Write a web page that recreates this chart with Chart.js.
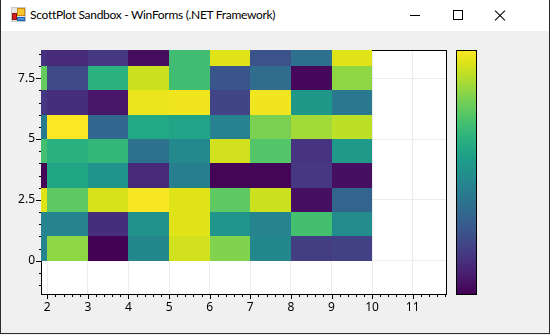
<!DOCTYPE html>
<html>
<head>
<meta charset="utf-8">
<title>ScottPlot Sandbox - WinForms (.NET Framework)</title>
<script src="https://cdn.jsdelivr.net/npm/chart.js@4/dist/chart.umd.min.js"></script>
<style>
  body { margin: 0; background: #f0f0f0; font-family: "Noto Sans", sans-serif; }
  #win { position: absolute; left: 0; top: 0; width: 548px; height: 333px;
         border: 1px solid #2b2b2b; border-top: none; background: #f0f0f0; overflow: hidden; }
  #titlebar { position: absolute; left: 0; top: 0; width: 548px; height: 31px; background: #fff; }
  #titletext { position: absolute; left: 29px; top: 7px; font-family: Lato, sans-serif; font-size: 12px;
               letter-spacing: -0.3px; line-height: 16px; color: #000; white-space: nowrap; }
  .ic { position: absolute; box-sizing: border-box; }
  #btnMin { position: absolute; left: 409px; top: 15px; width: 10px; height: 1px; background: #000; }
  #btnMax { position: absolute; left: 452px; top: 10px; width: 10px; height: 10px; box-sizing: border-box; border: 1px solid #000; }
  #btnClose { position: absolute; left: 493px; top: 9px; width: 12px; height: 12px; }
  #btnClose::before, #btnClose::after { content: ""; position: absolute; left: -1px; top: 5.5px; width: 14px; height: 1px; background: #000; }
  #btnClose::before { transform: rotate(45deg); }
  #btnClose::after { transform: rotate(-45deg); }
  #plotHost { position: absolute; left: 0; top: 31px; width: 547px; height: 302px; }
</style>
</head>
<body>
<div id="win">
  <div id="titlebar">
    <div class="ic" style="left:10px;top:7px;width:15px;height:15px;background:#e6e6e6;border:1px solid #c8c8c8;"></div>
    <div class="ic" style="left:16px;top:8px;width:8px;height:8px;background:#f6c630;border:1px solid #d08a10;"></div>
    <div class="ic" style="left:11px;top:13px;width:5px;height:7px;background:#d42020;border:1px solid #901010;"></div>
    <div class="ic" style="left:16px;top:17px;width:8px;height:4px;background:#4a8ee0;border:1px solid #2060b0;"></div>
    <div id="titletext">ScottPlot Sandbox - WinForms (.NET Framework)</div>
    <div id="btnMin"></div>
    <div id="btnMax"></div>
    <div id="btnClose"></div>
  </div>
  <div id="plotHost"><canvas id="myChart" width="547" height="302"></canvas></div>
</div>
<script>
// left edge of each heatmap column and bottom edge of each row
const colStart = [1, 2, 3, 4, 5, 6, 7, 8, 9];
const rowStart = [0, 1, 2, 3, 4, 5, 6, 7, 8];

// cell intensities, one array per row (bottom row first)
const row0 = [0.45, 0.83, 0.00, 0.46, 0.93, 0.81, 0.46, 0.18, 0.19];
const row1 = [0.45, 0.45, 0.13, 0.50, 0.95, 0.52, 0.45, 0.70, 0.48];
const row2 = [0.95, 0.75, 0.94, 0.99, 0.95, 0.75, 0.92, 0.04, 0.32];
const row3 = [0.01, 0.59, 0.51, 0.12, 0.43, 0.01, 0.01, 0.16, 0.04];
const row4 = [0.70, 0.63, 0.66, 0.37, 0.47, 0.93, 0.73, 0.15, 0.54];
const row5 = [0.41, 1.00, 0.33, 0.60, 0.58, 0.44, 0.80, 0.86, 0.90];
const row6 = [0.16, 0.13, 0.06, 0.97, 0.98, 0.20, 0.98, 0.53, 0.40];
const row7 = [0.76, 0.22, 0.64, 0.92, 0.69, 0.26, 0.35, 0.02, 0.83];
const row8 = [0.14, 0.12, 0.16, 0.03, 0.69, 0.95, 0.25, 0.37, 0.95];
const rows = [row0, row1, row2, row3, row4, row5, row6, row7, row8];

// axis ticks
const xTicks = [2, 3, 4, 5, 6, 7, 8, 9, 10, 11];
const yTicks = [0, 2.5, 5, 7.5];

// viewport
const xMin = 1.845, xMax = 11.82;
const yMin = -1.37, yMax = 8.66;

// viridis colormap stops
const viridis = ["#440154", "#471365", "#482475", "#463480", "#414487", "#3b528b", "#355f8d",
  "#2f6c8e", "#2a788e", "#25848e", "#21918c", "#1e9c89", "#22a884", "#2fb47c", "#44bf70",
  "#5ec962", "#7ad151", "#9bd93c", "#bddf26", "#dfe318", "#fde725"];

function hexRgb(h) {
  return [parseInt(h.substr(1, 2), 16), parseInt(h.substr(3, 2), 16), parseInt(h.substr(5, 2), 16)];
}
function colormap(t) {
  t = Math.max(0, Math.min(1, t));
  const p = t * (viridis.length - 1);
  const i = Math.min(Math.floor(p), viridis.length - 2);
  const f = p - i;
  const a = hexRgb(viridis[i]), b = hexRgb(viridis[i + 1]);
  const c = a.map((v, k) => Math.round(v + (b[k] - v) * f));
  return "rgb(" + c[0] + "," + c[1] + "," + c[2] + ")";
}

const font = { family: "Noto Sans", size: 12 };

const heatmapPlugin = {
  id: "heatmap",
  beforeDraw(chart) {
    const { ctx, chartArea: a } = chart;
    ctx.save();
    ctx.fillStyle = "#ffffff";
    ctx.fillRect(a.left, a.top, a.right - a.left, a.bottom - a.top);
    ctx.restore();
  },
  beforeDatasetsDraw(chart) {
    const { ctx, chartArea: a, scales } = chart;
    const x = scales.x, y = scales.y;
    ctx.save();
    // frame
    ctx.strokeStyle = "#000";
    ctx.lineWidth = 1;
    ctx.strokeRect(a.left + 0.5, a.top + 0.5, a.right - a.left, a.bottom - a.top);

    // tick marks (major + minor)
    ctx.beginPath();
    for (let v = 2; v <= xMax + 1e-6; v += 0.2) {
      const major = Math.abs(v - Math.round(v)) < 1e-6;
      const px = Math.round(x.getPixelForValue(v)) + 0.5;
      ctx.moveTo(px, a.bottom);
      ctx.lineTo(px, a.bottom + (major ? 5 : 3));
    }
    for (let v = -1; v <= yMax + 1e-6; v += 0.5) {
      const major = Math.abs(v / 2.5 - Math.round(v / 2.5)) < 1e-6;
      const py = Math.round(y.getPixelForValue(v)) + 0.5;
      ctx.moveTo(a.left, py);
      ctx.lineTo(a.left - (major ? 5 : 2), py);
    }
    ctx.stroke();

    // cells
    ctx.beginPath();
    ctx.rect(a.left, a.top, a.right - a.left, a.bottom - a.top);
    ctx.clip();
    rows.forEach((row, r) => {
      row.forEach((v, c) => {
        const x0 = Math.round(x.getPixelForValue(colStart[c]));
        const x1 = Math.round(x.getPixelForValue(colStart[c] + 1));
        const y0 = Math.round(y.getPixelForValue(rowStart[r] + 1));
        const y1 = Math.round(y.getPixelForValue(rowStart[r]));
        ctx.fillStyle = colormap(v);
        ctx.fillRect(x0, y0, x1 - x0, y1 - y0);
      });
    });
    ctx.restore();
  },
  afterDraw(chart) {
    // colorbar
    const { ctx, chartArea: a } = chart;
    const left = a.right + 10, w = 21;
    const g = ctx.createLinearGradient(0, a.bottom, 0, a.top);
    viridis.forEach((c, i) => g.addColorStop(i / (viridis.length - 1), c));
    ctx.save();
    ctx.fillStyle = g;
    ctx.fillRect(left, a.top, w, a.bottom - a.top);
    ctx.strokeStyle = "#000";
    ctx.lineWidth = 1;
    ctx.strokeRect(left + 0.5, a.top + 0.5, w - 1, a.bottom - a.top);
    ctx.restore();
  }
};

const config = {
  type: "scatter",
  data: { datasets: [{ data: [] }] },
  plugins: [heatmapPlugin],
  options: {
    responsive: false,
    animation: false,
    layout: { padding: { left: 0, top: 19, right: 102, bottom: 0 } },
    plugins: { legend: { display: false }, tooltip: { enabled: false } },
    scales: {
      x: {
        type: "linear",
        min: xMin,
        max: xMax,
        afterBuildTicks: (s) => { s.ticks = xTicks.map((v) => ({ value: v })); },
        afterFit: (s) => { s.height = 39; },
        grid: { color: "#ebebeb", drawTicks: false },
        border: { display: false },
        ticks: { padding: 6, color: "#000", font: font, maxRotation: 0, autoSkip: false,
                 callback: (v) => String(v) }
      },
      y: {
        type: "linear",
        min: yMin,
        max: yMax,
        afterBuildTicks: (s) => { s.ticks = yTicks.map((v) => ({ value: v })); },
        afterFit: (s) => { s.width = 40; },
        grid: { color: "#ebebeb", drawTicks: false },
        border: { display: false },
        ticks: { padding: 6, color: "#000", font: font, autoSkip: false,
                 callback: (v) => String(v) }
      }
    }
  }
};

const myChart = new Chart(document.getElementById("myChart"), config);
</script>
</body>
</html>
